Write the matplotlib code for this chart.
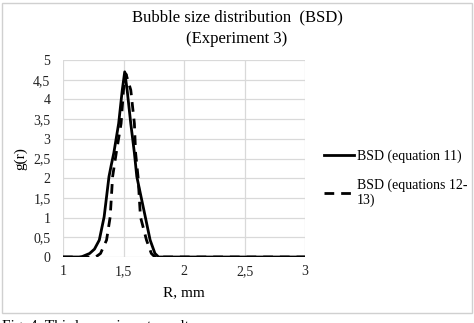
import matplotlib.pyplot as plt
from matplotlib.patches import Rectangle

# BSD (equation 11) - solid
r_eq11 = [1.0, 1.15, 1.22, 1.26, 1.30, 1.34, 1.38, 1.40, 1.42, 1.46, 1.49, 1.51,
          1.53, 1.56, 1.59, 1.61, 1.68, 1.72, 1.76, 1.79, 1.85, 3.0]
g_eq11 = [0, 0, 0.09, 0.2, 0.43, 1.02, 2.04, 2.35, 2.64, 3.39, 4.24, 4.70,
          4.24, 3.39, 2.64, 2.04, 1.02, 0.43, 0.09, 0.0, 0, 0]

# BSD (equations 12-13) - dashed
r_eq12 = [1.0, 1.27, 1.31, 1.36, 1.39, 1.41, 1.44, 1.48, 1.50, 1.52,
          1.56, 1.59, 1.60, 1.62, 1.64, 1.69, 1.73, 1.76, 1.85, 3.0]
g_eq12 = [0, 0, 0.09, 0.43, 1.02, 2.04, 2.64, 3.39, 4.24, 4.65,
          4.24, 3.39, 2.64, 2.04, 1.02, 0.43, 0.09, 0.0, 0, 0]

x_ticks = [1, 1.5, 2, 2.5, 3]
x_labels = ['1', '1,5', '2', '2,5', '3']
y_ticks = [0, 0.5, 1, 1.5, 2, 2.5, 3, 3.5, 4, 4.5, 5]
y_labels = ['0', '0,5', '1', '1,5', '2', '2,5', '3', '3,5', '4', '4,5', '5']

plt.rcParams['font.family'] = ['Liberation Serif', 'DejaVu Serif']

fig = plt.figure(figsize=(4.74, 3.23), dpi=100)
ax = fig.add_axes([0.1329, 0.2043, 0.5106, 0.6099])

ax.plot(r_eq11, g_eq11, color='black', linewidth=2.0, label='BSD (equation 11)')
ax.plot(r_eq12, g_eq12, color='black', linewidth=2.0, linestyle=(0, (3.5, 2.5)),
        label='BSD (equations 12-\n13)')

ax.set_xlim(1, 3)
ax.set_ylim(0, 5)
ax.set_xticks(x_ticks)
ax.set_xticklabels(x_labels)
ax.set_yticks(y_ticks)
ax.set_yticklabels(y_labels)
ax.tick_params(axis='x', length=0, labelsize=10, pad=6, colors='#222222')
ax.tick_params(axis='y', length=0, labelsize=10, pad=9, colors='#222222')
ax.grid(True, color='#d9d9d9', linewidth=0.9)
ax.set_axisbelow(True)
for s in ax.spines.values():
    s.set_visible(False)

ax.set_xlabel('R, mm', fontsize=11, labelpad=6)
ax.set_ylabel('g(r)', fontsize=11, labelpad=4)

fig.text(0.5, 0.945, 'Bubble size distribution  (BSD)', ha='center', va='center', fontsize=12)
fig.text(0.5, 0.878, '(Experiment 3)', ha='center', va='center', fontsize=12)

ax.legend(loc='center left', bbox_to_anchor=(1.026, 0.40), frameon=False, fontsize=10,
          handlelength=2.2, handletextpad=0.2, labelspacing=1.1)

# chart frame and the caption, which the reference shows cut off at the bottom
fig.patches.append(Rectangle((0.004, 0.03), 0.992, 0.962, transform=fig.transFigure,
                             fill=False, edgecolor='#d0d0d0', linewidth=1.0))
fig.text(0.005, -0.012, 'Fig. 4. Third experiment results', ha='left', va='center',
         fontsize=11)

fig.savefig('out.png', dpi=100)
